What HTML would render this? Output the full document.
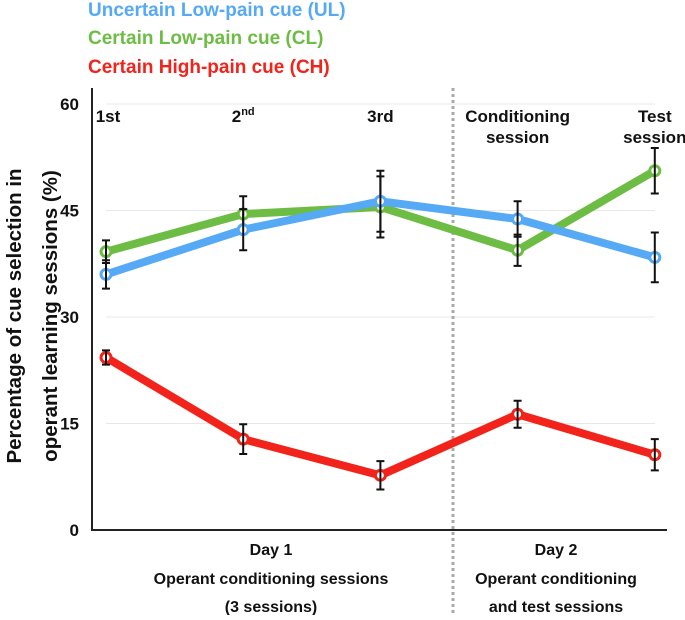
<!DOCTYPE html>
<html><head><meta charset="utf-8"><style>
body{margin:0;background:#fff}
svg text{font-family:"Liberation Sans",sans-serif;font-weight:bold}
</style></head><body>
<svg width="685" height="615" viewBox="0 0 685 615">
<g id="legend">
<text x="88" y="16" font-size="19" fill="#56a9f5">Uncertain Low-pain cue (UL)</text>
<text x="88" y="44" font-size="19" fill="#6dbd45">Certain Low-pain cue (CL)</text>
<text x="88" y="73" font-size="19" fill="#f2231a">Certain High-pain cue (CH)</text>
</g>
<g id="grid"></g>
<line x1="453" y1="88" x2="453" y2="615" stroke="#aaa" stroke-width="3" stroke-dasharray="3,3"/>
<line x1="92" y1="88" x2="92" y2="531" stroke="#222" stroke-width="2"/>
<line x1="91" y1="530" x2="667" y2="530" stroke="#222" stroke-width="2"/>
<g id="yticks"></g>
<g id="series"></g>
<g id="cats"></g>
<text transform="translate(21,316) rotate(-90)" text-anchor="middle" font-size="20.5" fill="#111">Percentage of cue selection in</text>
<text transform="translate(57,316) rotate(-90)" text-anchor="middle" font-size="20.5" fill="#111">operant learning sessions (%)</text>
<text x="271" y="555" text-anchor="middle" font-size="16" fill="#111">Day 1</text>
<text x="271" y="584" text-anchor="middle" font-size="16" fill="#111">Operant conditioning sessions</text>
<text x="271" y="612" text-anchor="middle" font-size="16" fill="#111">(3 sessions)</text>
<text x="556" y="555" text-anchor="middle" font-size="16" fill="#111">Day 2</text>
<text x="556" y="584" text-anchor="middle" font-size="16" fill="#111">Operant conditioning</text>
<text x="556" y="612" text-anchor="middle" font-size="16" fill="#111">and test sessions</text>
</svg>
<script>
const categories=["1st","2nd","3rd","Conditioning session","Test session"];
const yTicks=[0,15,30,45,60];
const ulValues=[36.0,42.3,46.3,43.8,38.4];
const ulErrors=[2.0,2.9,4.3,2.5,3.5];
const clValues=[39.2,44.5,45.5,39.4,50.6];
const clErrors=[1.6,2.5,4.3,2.2,3.2];
const chValues=[24.3,12.8,7.7,16.3,10.6];
const chErrors=[1.0,2.1,2.0,1.9,2.2];
const NS="http://www.w3.org/2000/svg";
const y=v=>530-v*(426/60);
const x=i=>106+i*137.2;
function mk(t,a,p){const e=document.createElementNS(NS,t);for(const k in a)e.setAttribute(k,a[k]);p.appendChild(e);return e;}
const grid=document.getElementById('grid'),yt=document.getElementById('yticks');
yTicks.forEach(v=>{
 if(v>0){const l=mk('line',{x1:106,x2:655,y1:y(v),y2:y(v),stroke:'#e8e8e8','stroke-width':1},grid);
 
 }
 const t=mk('text',{x:79,y:y(v)+6,'text-anchor':'end','font-size':17,fill:'#111'},yt);
 t.textContent=v;
 
 
});
const cats=document.getElementById('cats');
function cat(txt,sup,cx,cy,name){const t=mk('text',{x:cx,y:cy,'text-anchor':'middle','font-size':17,fill:'#111'},cats);
 t.textContent=txt;if(sup){const s=mk('tspan',{'font-size':11,dy:-7},t);s.textContent=sup;}
 
 }
cat('1st','',x(0)+2,122,'cat-1st');
cat('2','nd',x(1),122,'cat-2nd');
cat('3rd','',x(2),122,'cat-3rd');
cat('Conditioning','',x(3),122,'cat-conditioning');
cat('session','',x(3),143,'cat-conditioning-2');
cat('Test','',x(4),122,'cat-test');
cat('session','',x(4),143,'cat-test-2');
const ser=document.getElementById('series');
function draw(vals,errs,color,name){
 const g=mk('g',{},ser);
 
 
 const pl=mk('polyline',{points:vals.map((v,i)=>x(i)+','+y(v)).join(' '),fill:'none',stroke:color,'stroke-width':8,'stroke-linejoin':'round'},g);
 
 
 vals.forEach((v,i)=>{
  const c=mk('circle',{cx:x(i),cy:y(v),r:5,fill:'#fff',stroke:color,'stroke-width':3},g);
  
  
  const e=errs[i],t=y(v+e),b=y(v-e);
  const eb=mk('path',{d:`M${x(i)},${t}V${b}M${x(i)-4},${t}H${x(i)+4}M${x(i)-4},${b}H${x(i)+4}`,stroke:'#111','stroke-width':2,fill:'none'},g);
  
  
 });
}
draw(chValues,chErrors,'#f2231a','ch');
draw(clValues,clErrors,'#6dbd45','cl');
draw(ulValues,ulErrors,'#56a9f5','ul');
</script>
</body></html>
